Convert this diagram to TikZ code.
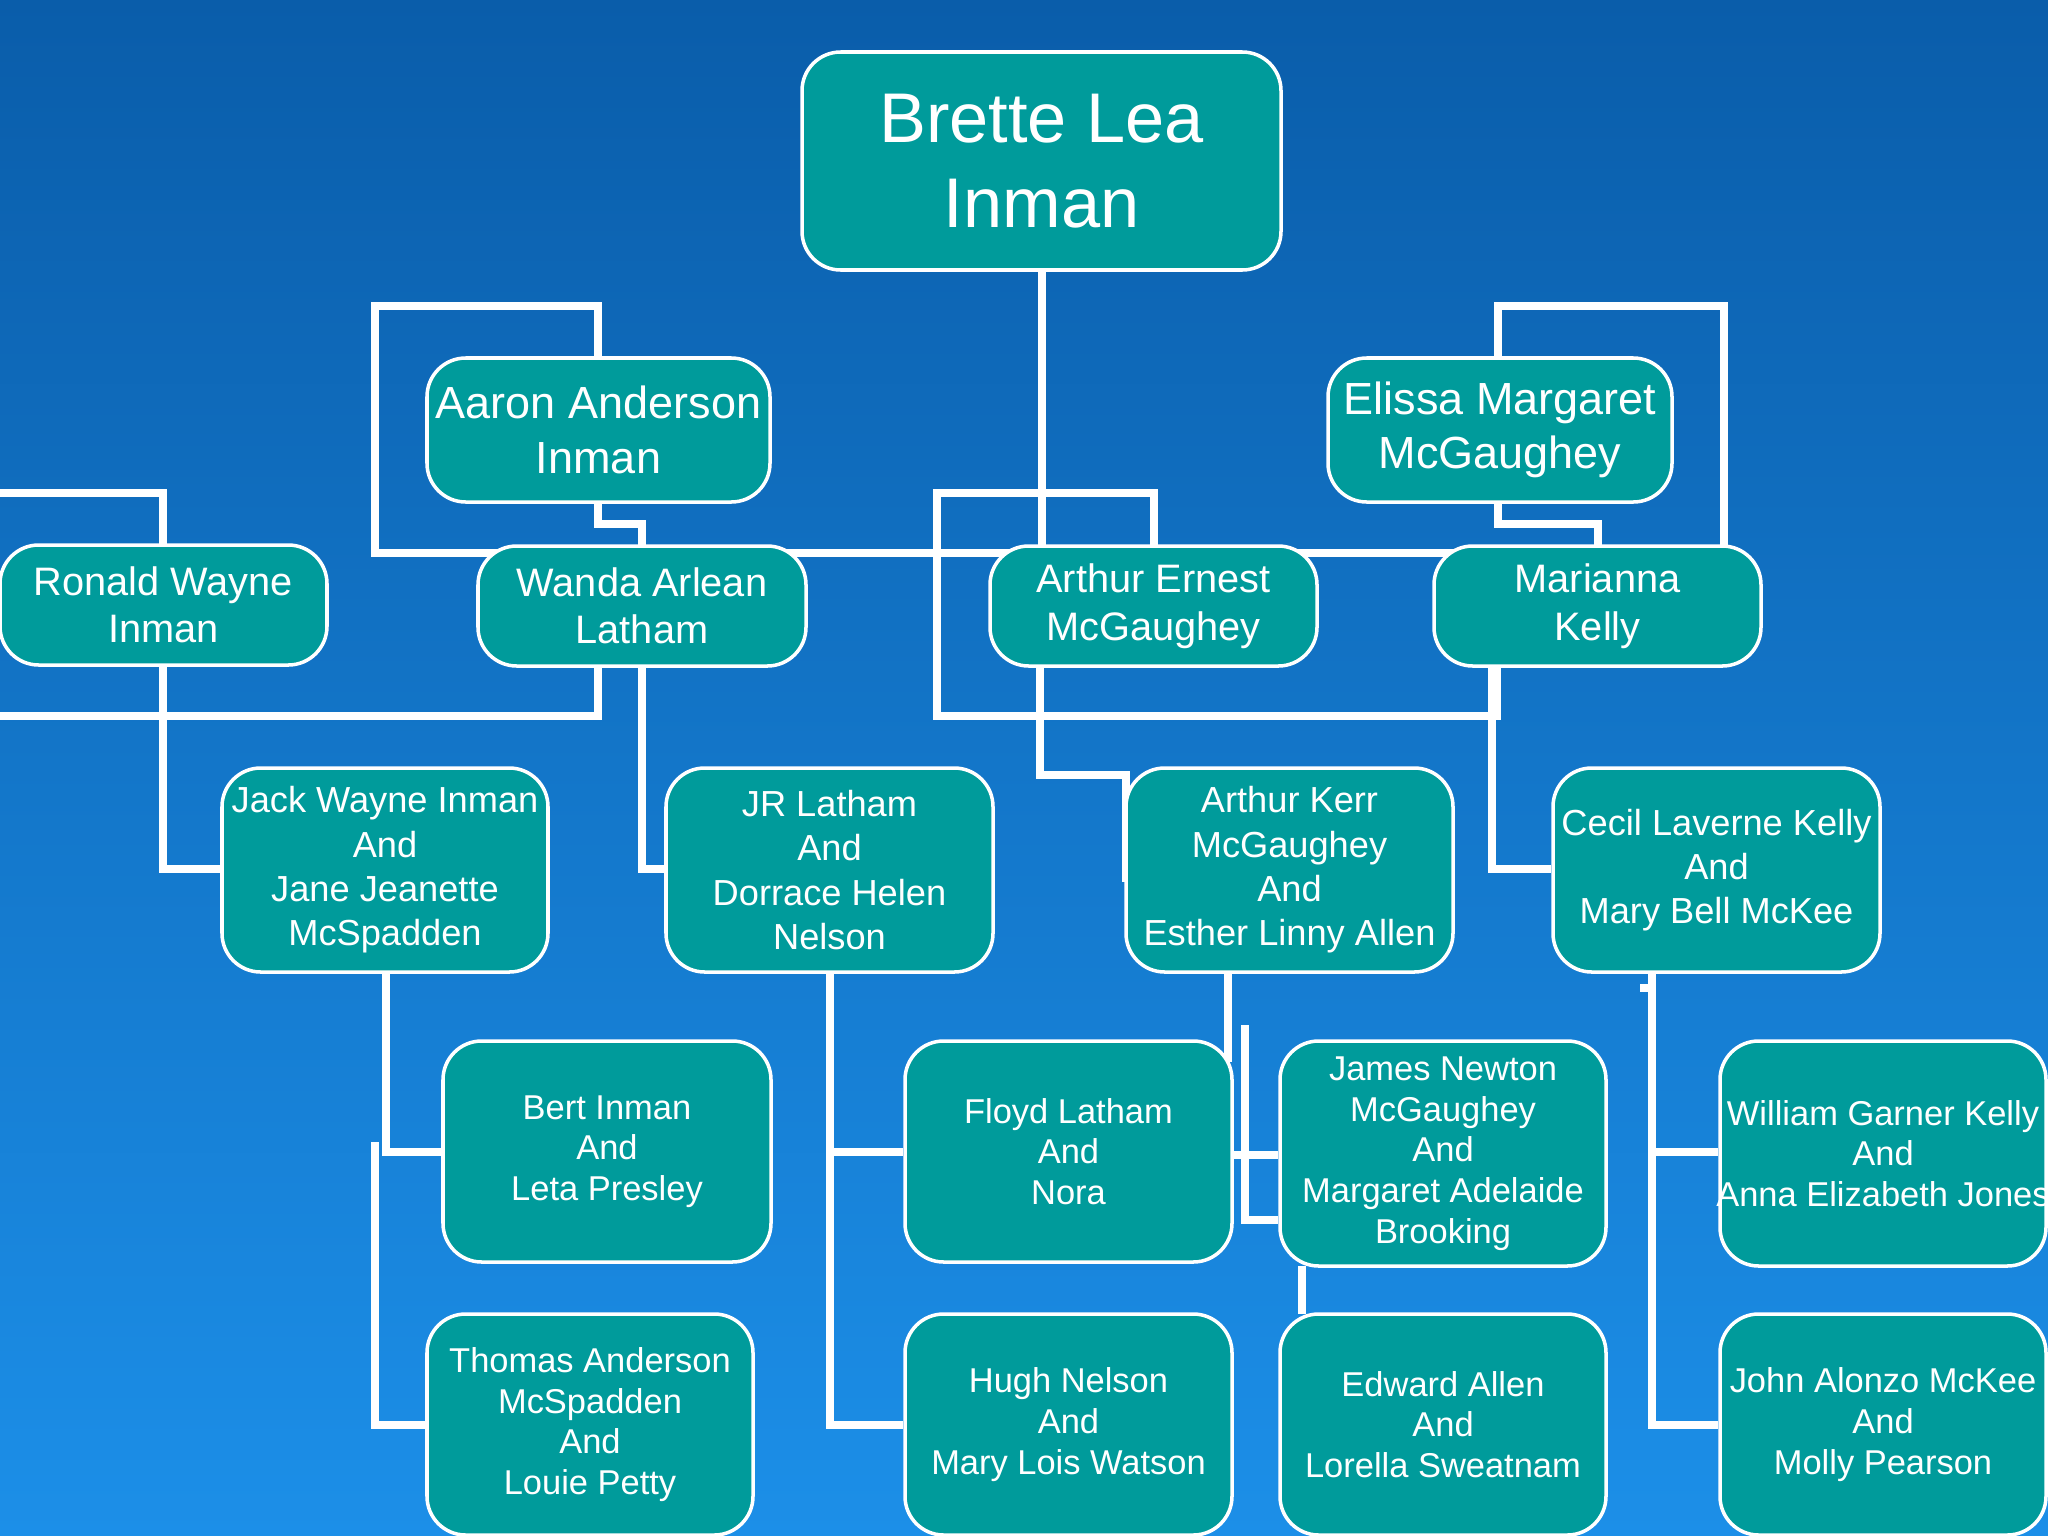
\documentclass[tikz,border=0pt]{standalone}
\usepackage{fontspec}
\setmainfont{Liberation Sans}
\pgfdeclarelayer{bg}\pgfsetlayers{bg,main}
\definecolor{teal1}{HTML}{009B9B}
\definecolor{bgtop}{HTML}{0A5DAA}
\definecolor{bgbot}{HTML}{1C8FE8}
\tikzset{box/.style={draw=white,line width=1pt,fill=teal1,rounded corners=11pt,text=white,align=center,inner sep=0pt,font=\fontsize{9.8}{11.6}\selectfont},
wire/.style={draw=white,line width=2.3pt}}
\newcommand\bx[6][]{\node[box,#1,minimum width={(#4-#2)*0.01cm},minimum height={(#5-#3)*0.01cm}] (#6) at ({(#2+#4)/2},{-(#3+#5)/2}) {\BXT};}
\begin{document}
\begin{tikzpicture}[x=0.01cm,y=0.01cm]
\begin{pgfonlayer}{bg}
\shade[top color=bgtop,bottom color=bgbot] (0,0) rectangle (2048,-1536);
\end{pgfonlayer}
\useasboundingbox (0,0) rectangle (2048,-1536);
\def\BXT{Brette Lea\\Inman}\bx[font=\fontsize{20}{24}\selectfont]{802}{52}{1281}{270}{br}
\def\BXT{Aaron Anderson\\Inman}\bx[font=\fontsize{12.8}{15.5}\selectfont]{427}{358}{770}{502}{aa}
\def\BXT{Elissa Margaret\\McGaughey}\bx[font=\fontsize{12.8}{15.5}\selectfont]{1328}{358}{1672}{502}{em}
\def\BXT{Ronald Wayne\\Inman}\bx[font=\fontsize{11.3}{13.5}\selectfont]{0}{545}{327}{665}{rw}
\def\BXT{Wanda Arlean\\Latham}\bx[font=\fontsize{11.3}{13.5}\selectfont]{478}{546}{806}{666}{wa}
\def\BXT{Arthur Ernest\\McGaughey}\bx[font=\fontsize{11.3}{13.5}\selectfont]{990}{546}{1317}{666}{ae}
\def\BXT{Marianna\\Kelly}\bx[font=\fontsize{11.3}{13.5}\selectfont]{1434}{546}{1761}{666}{mk}
\def\BXT{Jack Wayne Inman\\And\\Jane Jeanette\\McSpadden}\bx[font=\fontsize{10.3}{12.6}\selectfont]{222}{768}{548}{972}{jw}
\def\BXT{JR Latham\\And\\Dorrace Helen\\Nelson}\bx[font=\fontsize{10.3}{12.6}\selectfont]{666}{768}{993}{972}{jr}
\def\BXT{Arthur Kerr\\McGaughey\\And\\Esther Linny Allen}\bx[font=\fontsize{10.3}{12.6}\selectfont]{1126}{768}{1453}{972}{ak}
\def\BXT{Cecil Laverne Kelly\\And\\Mary Bell McKee}\bx[font=\fontsize{10.3}{12.6}\selectfont]{1553}{768}{1880}{972}{ck}
\def\BXT{Bert Inman\\And\\Leta Presley}\bx{443}{1041}{771}{1262}{bi}
\def\BXT{Floyd Latham\\And\\Nora}\bx{905}{1041}{1232}{1262}{fl}
\def\BXT{James Newton\\McGaughey\\And\\Margaret Adelaide\\Brooking}\bx{1280}{1041}{1606}{1266}{jn}
\def\BXT{William Garner Kelly\\And\\\makebox[0pt]{Anna Elizabeth Jones}}\bx{1720}{1041}{2046}{1266}{wg}
\def\BXT{Thomas Anderson\\McSpadden\\And\\Louie Petty}\bx{427}{1314}{753}{1535}{ta}
\def\BXT{Hugh Nelson\\And\\Mary Lois Watson}\bx{905}{1314}{1232}{1535}{hn}
\def\BXT{Edward Allen\\And\\Lorella Sweatnam}\bx{1280}{1314}{1606}{1535}{ea}
\def\BXT{John Alonzo McKee\\And\\Molly Pearson}\bx{1720}{1314}{2046}{1535}{ja}
\coordinate (lft) at (0,-493);
\coordinate (lft2) at (0,-716);
\begin{pgfonlayer}{bg}
\draw[wire] (1042,-270) -- (1042,-546);
\draw[wire] (wa.center |- 0,-553) -- (mk.center |- 0,-553);
\draw[wire] (598,-358) -- (598,-306) -- (375,-306) -- (375,-553) -- (wa.center |- 0,-553);
\draw[wire] (598,-502) -- (598,-524) -- (642,-524) -- (642,-546);
\draw[wire] (lft) -- (163,-493) -- (163,-545);
\draw[wire] (lft2) -- (598,-716) -- (598,-666);
\draw[wire] (163,-665) -- (163,-869) -- (jw.west |- 0,-869);
\draw[wire] (642,-666) -- (642,-869) -- (jr.west |- 0,-869);
\draw[wire] (1154,-546) -- (1154,-493) -- (937,-493) -- (937,-716) -- (1497,-716) -- (1497,-666);
\draw[wire] (1040,-666) -- (1040,-775) -- (1126,-775) -- (1126,-882);
\draw[wire] (1498,-358) -- (1498,-306) -- (1724,-306) -- (1724,-546);
\draw[wire] (1498,-502) -- (1498,-524) -- (1598,-524) -- (1598,-546);
\draw[wire] (1492,-666) -- (1492,-869) -- (ck.west |- 0,-869);
\draw[wire] (386,-972) -- (386,-1152) -- (bi.west |- 0,-1152);
\draw[wire] (375,-1142) -- (375,-1425) -- (ta.west |- 0,-1425);
\draw[wire] (830,-972) -- (830,-1425) -- (hn.west |- 0,-1425);
\draw[wire] (830,-1152) -- (fl.west |- 0,-1152);
\draw[wire] (1228,-972) -- (1228,-1062);
\draw[wire] (1245,-1025) -- (1245,-1220) -- (jn.west |- 0,-1220);
\draw[wire] (1232,-1155) -- (jn.west |- 0,-1155);
\draw[wire] (1302,-1266) -- (1302,-1314);
\draw[wire] (1652,-972) -- (1652,-1425) -- (ja.west |- 0,-1425);
\draw[wire] (1652,-1152) -- (wg.west |- 0,-1152);
\draw[wire] (1640,-988) -- (1652,-988);
\end{pgfonlayer}
\end{tikzpicture}
\end{document}
